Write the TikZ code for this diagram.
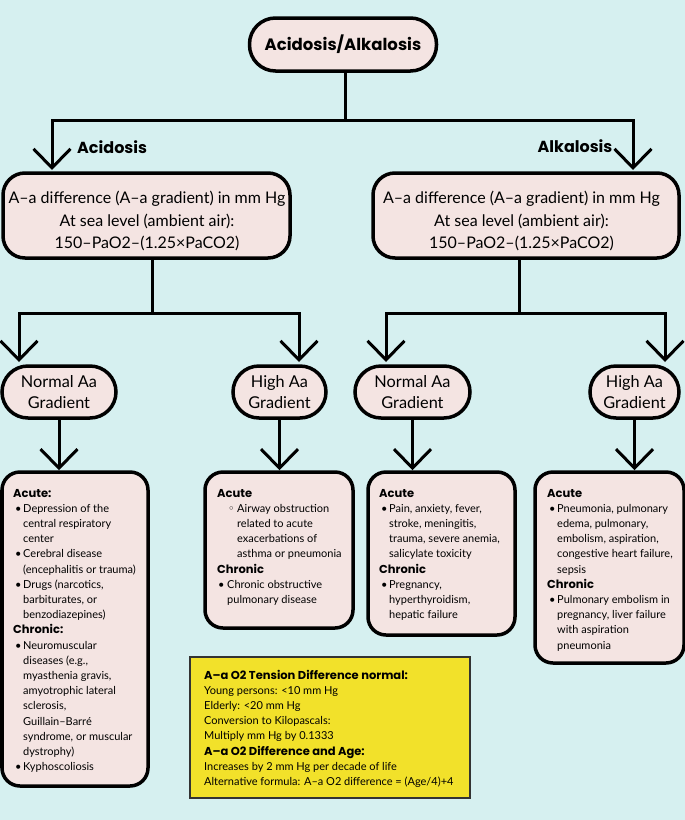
\documentclass[tikz,border=0pt]{standalone}
\usepackage{fontspec}
\setmainfont{Lato}
\newfontfamily\symfont{DejaVu Sans}
\newfontfamily\heavy{Poppins Bold}
\usetikzlibrary{arrows.meta}
\definecolor{bg}{RGB}{214,240,240}
\definecolor{pinkfill}{RGB}{244,228,226}
\definecolor{yel}{RGB}{242,225,42}
\newcommand\hdl[1]{{\heavy\fontsize{11.5}{15.2}\selectfont #1}\par}
\newcommand\bul[1]{\hspace*{2pt}\makebox[8pt][l]{•}#1\par}
\newcommand\cnt[1]{\hspace*{10pt}#1\par}
\newcommand\smalltext{\fontsize{11}{15.2}\selectfont}
\begin{document}
\begin{tikzpicture}[x=1pt,y=-1pt,
  box/.style={draw=black, line width=3.5pt, fill=pinkfill, inner sep=0pt},
  conn/.style={line width=3pt, draw=black},
  arr/.style={conn, -{Straight Barb[length=19pt,width=37pt]}},
  midtext/.style={align=center, font=\fontsize{16.3}{21}\selectfont},
  txt/.style={inner sep=0pt, anchor=base west},
  ctxt/.style={inner sep=0pt, anchor=base}
]
\fill[bg] (0,0) rectangle (685,820);
\useasboundingbox (0,0) rectangle (685,820);

% top node
\node[box, rounded corners=26pt, minimum width=187pt, minimum height=53pt,
      font=\heavy\fontsize{16.5}{18}\selectfont] (top) at (343,44.5) {Acidosis/Alkalosis};

% level 1
\node[box, rounded corners=22pt, minimum width=287pt, minimum height=85pt] (accbox) at (146.5,215.5) {};
\node[box, rounded corners=22pt, minimum width=306pt, minimum height=85pt] (alkbox) at (526,215.5) {};
\node[ctxt] (acctext) at (147,203.5) {\parbox[t]{290pt}{\centering\fontsize{16}{22.5}\selectfont
  A–a difference (A–a gradient) in mm Hg\\At sea level (ambient air):\\150–PaO2–(1.25×PaCO2)}};
\node[ctxt] (alktext) at (521.5,203.5) {\parbox[t]{300pt}{\centering\fontsize{16}{22.5}\selectfont
  A–a difference (A–a gradient) in mm Hg\\At sea level (ambient air):\\150–PaO2–(1.25×PaCO2)}};

\node[inner sep=0pt, anchor=west, font=\heavy\fontsize{16}{18}\selectfont] (acidlbl) at (77,147) {Acidosis};
\node[inner sep=0pt, font=\heavy\fontsize{16}{18}\selectfont] (alklbl) at (575,146) {Alkalosis};

% level 2
\node[box, rounded corners=26pt, minimum width=114pt, minimum height=52pt, midtext] (nL) at (59,392) {Normal Aa\\Gradient};
\node[box, rounded corners=26pt, minimum width=93pt, minimum height=52pt, midtext] (hL) at (279.5,392) {High Aa\\Gradient};
\node[box, rounded corners=26pt, minimum width=115pt, minimum height=52pt, midtext] (nR) at (412.5,392) {Normal Aa\\Gradient};
\node[box, rounded corners=26pt, minimum width=89pt, minimum height=52pt, midtext] (hR) at (634.5,392) {High Aa\\Gradient};

% level 3 boxes
\node[box, rounded corners=18pt, minimum width=146pt, minimum height=314pt] (bA) at (75,629) {};
\node[box, rounded corners=18pt, minimum width=148pt, minimum height=156pt] (bB) at (279,550) {};
\node[box, rounded corners=18pt, minimum width=147pt, minimum height=163pt] (bC) at (441.5,553.5) {};
\node[box, rounded corners=18pt, minimum width=149pt, minimum height=191pt] (bD) at (609.5,567.5) {};
\node[draw=black!80, line width=1.5pt, fill=yel, minimum width=280pt, minimum height=141pt, inner sep=0pt] (yb) at (330,727.5) {};

\node[txt] (tA) at (13,497) {\parbox[t]{150pt}{\smalltext
\hdl{Acute:}
\bul{Depression of the}
\cnt{central respiratory}
\cnt{center}
\bul{Cerebral disease}
\cnt{(encephalitis or trauma)}
\bul{Drugs (narcotics,}
\cnt{barbiturates, or}
\cnt{benzodiazepines)}
\hdl{Chronic:}
\bul{Neuromuscular}
\cnt{diseases (e.g.,}
\cnt{myasthenia gravis,}
\cnt{amyotrophic lateral}
\cnt{sclerosis,}
\cnt{Guillain–Barré}
\cnt{syndrome, or muscular}
\cnt{dystrophy)}
\bul{Kyphoscoliosis}}};

\node[txt] (tB) at (217,497) {\parbox[t]{150pt}{\smalltext
\hdl{Acute}
\hspace*{11pt}\makebox[9pt][l]{\symfont ◦}Airway obstruction\par
\hspace*{20pt}related to acute\par
\hspace*{20pt}exacerbations of\par
\hspace*{20pt}asthma or pneumonia\par
\hdl{Chronic}
\hspace*{1pt}\makebox[9pt][l]{•}Chronic obstructive\par
\hspace*{10pt}pulmonary disease}};

\node[txt] (tC) at (379,497) {\parbox[t]{150pt}{\smalltext
\hdl{Acute}
\bul{Pain, anxiety, fever,}
\cnt{stroke, meningitis,}
\cnt{trauma, severe anemia,}
\cnt{salicylate toxicity}
\hdl{Chronic}
\bul{Pregnancy,}
\cnt{hyperthyroidism,}
\cnt{hepatic failure}}};

\node[txt] (tD) at (547,497) {\parbox[t]{150pt}{\smalltext
\hdl{Acute}
\bul{Pneumonia, pulmonary}
\cnt{edema, pulmonary,}
\cnt{embolism, aspiration,}
\cnt{congestive heart failure,}
\cnt{sepsis}
\hdl{Chronic}
\bul{Pulmonary embolism in}
\cnt{pregnancy, liver failure}
\cnt{with aspiration}
\cnt{pneumonia}}};

\node[txt] (tY) at (204,679) {\parbox[t]{270pt}{\smalltext
\hdl{A–a O2 Tension Difference normal:}
Young persons: <10 mm Hg\par
Elderly: <20 mm Hg\par
Conversion to Kilopascals:\par
Multiply mm Hg by 0.1333\par
\hdl{A–a O2 Difference and Age:}
Increases by 2 mm Hg per decade of life\par
Alternative formula: A–a O2 difference = (Age/4)+4}};

% connectors
\coordinate (j0) at (345,120);
\coordinate (tipAc) at (52,170);
\coordinate (tipAl) at (633,170);
\draw[conn] (top.south -| j0) -- (j0);
\draw[arr] (j0) -| (tipAc);
\draw[arr] (j0) -| (tipAl);

\coordinate (jL) at (152,313);
\coordinate (jR) at (519,313);
\coordinate (t1) at (19,362);
\coordinate (t2) at (299,362);
\coordinate (t3) at (386,362);
\coordinate (t4) at (665,362);
\draw[conn] (accbox.south -| jL) -- (jL);
\draw[arr] (jL) -| (t1);
\draw[arr] (jL) -| (t2);
\draw[conn] (alkbox.south -| jR) -- (jR);
\draw[arr] (jR) -| (t3);
\draw[arr] (jR) -| (t4);

\draw[arr] (nL.south) -- (nL.south |- bA.north);
\draw[arr] (hL.south) -- (hL.south |- bB.north);
\draw[arr] (nR.south) -- (nR.south |- bC.north);
\draw[arr] (hR.south) -- (hR.south |- bD.north);
\end{tikzpicture}
\end{document}
